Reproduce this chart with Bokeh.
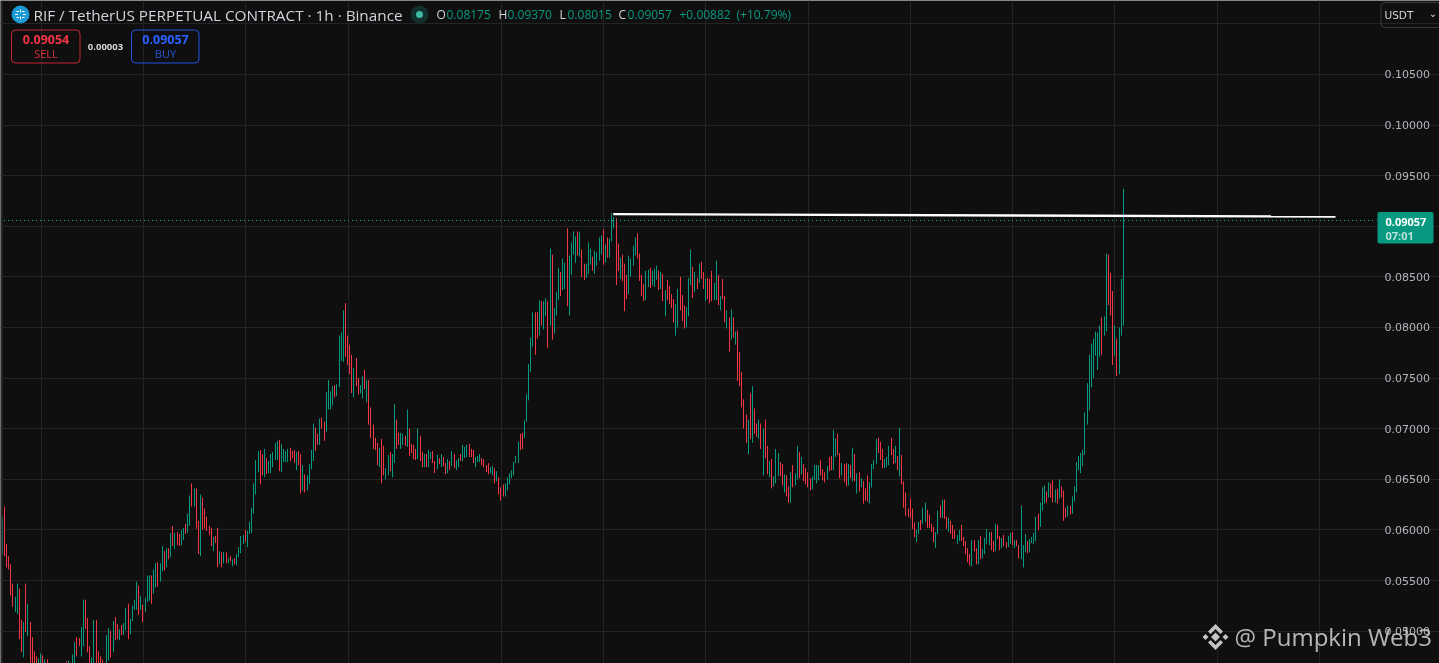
import numpy as np
from bokeh.plotting import figure
from bokeh.models import Range1d, FixedTicker, NumeralTickFormatter, Label, BoxAnnotation, PolyAnnotation
from bokeh.embed import file_html
from bokeh.resources import INLINE

# Bars in time order. Prices in units of 0.0001 USDT; g = up bar, r = down bar.
high_a = [613,623,586,574,566,547,534,547,542,511, 509,547,527,509,494,480,475,473,478,476,
          472,472,467,467,468,466,467,466,467,468, 470,471,468,477,489,494,493,504,531,531,
          513,485,474,511,511,480,475,472,467,496, 503,500,510,514,507,502,506,508,523,527,
          512,525,531,549,545,535,526,533,555,555, 555,561,567,568,567,584,579,582,582,597,
          604,597,598,596,600,602,606,616,634,646, 641,641,609,635,632,621,613,604,602,593,
          594,602,579,578,578,578,572,574,571,572, 576,583,594,595,600,599,608,622,646,669,
          678,679,675,680,671,668,675,677,686,688, 689,685,680,678,680,681,678,679,677,678]
low_a  = [576,574,563,561,535,524,519,517,492,479, 474,499,495,466,464,463,461,456,461,463,
          463,463,459,458,460,458,458,459,460,460, 462,462,460,463,466,475,485,475,485,502,
          479,466,463,463,463,463,462,462,459,462, 471,474,479,491,492,491,496,496,501,492,
          497,510,521,521,516,521,509,519,529,530, 527,537,543,544,549,559,560,563,571,573,
          584,581,585,584,585,590,596,597,604,623, 623,601,576,574,600,601,599,595,584,579,
          587,563,566,563,567,567,567,569,564,566, 565,573,577,586,588,583,596,597,616,635,
          657,645,654,652,655,656,656,662,669,669, 658,657,667,667,667,668,671,666,659,664]
dir_a = ("grrrrrggrr" "grgrrrrggr" "grgrgrrggr" "rgrggrrggr" "rrggrrrrgg" "grgrrgrggr" "ggggrgrggg"
         "rggrggrgrg" "rgrrggrggr" "grrgrrrrrg" "rrgrgrgrgr" "ggggrggggg" "grrgrggggg" "rggggrrrgr")

high_b = [675,664,655,654,665,679,705,701,695,710, 711,707,736,748,737,742,743,744,792,795,
          817,824,792,783,773,760,770,750,743,752, 758,748,748,721,704,691,686,681,690,683,
          661,674,677,675,724,709,696,696,695,693, 719,700,685,684,680,700,693,677,675,675,
          679,677,678,668,674,671,675,672,666,670, 668,678,675,669,671,675,684,682,684,685,
          680,679,672,673,675,671,670,664,666,662, 663,661,658,652,642,645,646,652,656,659,
          667,673,687,695,696,708,734,764,790,815, 815,815,827]
low_b  = [636,639,637,639,645,660,668,678,684,684, 700,688,697,719,719,723,731,732,741,767,
          766,771,763,754,735,731,742,734,735,730, 739,726,704,691,680,679,664,662,646,654,
          650,654,658,652,666,680,684,680,684,683, 682,673,676,670,669,670,668,662,662,662,
          662,670,666,656,660,665,662,663,655,656, 659,663,661,659,662,668,668,671,672,672,
          672,666,662,667,667,664,662,657,655,656, 654,646,648,635,629,633,633,639,645,651,
          654,666,666,679,680,691,707,728,756,781, 773,789,792]
dir_b = ("rgrggggrrg" "rrggggrggg" "grrrrgrrgg" "rgrrrrrgrr" "ggrggrrggr" "grrrrgrrgr" "ggrrgrgrrg"
         "rgrggrgggr" "rrgggrrrrg" "grgrrrgggg" "gggrrggggg" "rrg")

high_c = [826,826,829,826,878,872,819,835,859,855, 868,864,898,871,884,895,890,895,894,877,
          863,863,884,878,870,876,874,889,891,897, 882,889,888,913,909,908,883,869,872,863,
          852,871,868,881,889,893,873,852,843,856, 857,859,856,858,861,856,855,853,837,847,
          841,833,828,823,838,850,832,822,820,849, 877,860,855,849,863,865,855,848,849,848,
          856,844,866,852,831,848,831,817,810,818, 810,796]
low_c  = [802,798,811,780,802,788,794,812,827,831, 837,838,821,812,852,872,864,871,870,850,
          847,849,853,862,856,853,861,866,872,862, 864,869,869,885,898,842,856,848,846,816,
          828,833,850,861,871,868,846,831,826,827, 840,839,842,840,847,837,838,826,811,827,
          823,819,805,792,800,817,806,799,800,811, 842,829,835,838,844,848,838,826,828,824,
          826,827,827,822,817,828,805,799,776,788, 790,783]
dir_c = ("rggrgrgggr" "ggrggggrgr" "rgggrggggr" "grgggrrgrr" "rggggrrrrg" "grgggrgrgr" "rrrggrrrgg"
         "grgrgrrgrr" "rggrgrrgrg" "rg")

high_d = [797,776,756,729,714,709,735,742,720,705, 709,705,700,709,683,668,670,653,680,676,
          667,665,655,654,643,657,664,656,683,677, 672,665,661,657,651,653,664,664,664,669,
          660,657,663,672,673,699,690,695,676,666, 665,666,665,664,681,675,656,657,651,648,
          641,654,647,665,669,690,691,687,680,670, 672,683,691,680,683,673,701,674,648,637,
          621,631,621,607,600,608,610,622,627,620, 615,606,603,598,619,624,630,630,613,612,
          609,605,600,595,600,605,593,589,582]
low_d  = [747,742,721,700,686,675,690,686,695,692, 690,680,654,671,655,652,641,643,646,653,
          653,644,637,633,627,627,642,644,650,651, 655,648,645,642,639,640,649,646,649,654,
          649,647,650,658,659,659,672,674,651,654, 647,643,644,651,648,648,636,638,642,626,
          629,628,626,642,660,665,676,669,661,661, 662,664,674,665,666,659,653,645,622,614,
          613,612,601,593,588,596,600,606,608,602, 602,598,588,582,596,612,612,611,601,598,
          596,591,591,586,589,589,584,576,568]
dir_d = ("rrrrrgrgrr" "grgrrgrggg" "rrgrrgrggr" "grrrrggggr" "rrgrrggrrg" "rrgrgrgrgr" "rrggggrrrg"
         "ggrrgrgrrr" "rrrrggrggr" "rrrggrgrrg" "rrrggrrrr")

high_e = [576,590,590,582,590,594,581,592,601,598, 598,589,606,605,594,592,595,588,594,597,
          598,590,590,585,624,585,596,589,591,593, 597,613,616,627,642,644,638,647,646,649,
          640,641,650,643,639,622,624,624,633,643, 667,673,676,679,716,745,773,784,789,796,
          795,802,810,811,873,872,854,836,802,789, 800,848,937]
low_e  = [565,564,579,566,566,571,572,576,586,585, 580,578,579,591,580,582,584,582,583,586,
          585,582,584,572,571,563,578,577,578,587, 586,589,600,603,619,626,627,632,632,627,
          627,626,631,632,609,612,613,615,616,628, 637,659,656,663,674,704,718,741,750,772,
          758,771,773,792,796,822,812,763,772,752, 754,792,802]
dir_e = ("rgrrgrgggg" "rrgrrgrrgg" "rgrrgggrgg" "ggrgggrgrr" "grgrrrgrgg" "gggggggggg" "ggrggrrrgr" "ggg")

y_ticks = [0.105, 0.100, 0.095, 0.090, 0.085, 0.080, 0.075, 0.070, 0.065, 0.060, 0.055, 0.050]
grid_extra = [0.110]
title_text = "RIF / TetherUS PERPETUAL CONTRACT · 1h · Binance"
last_price = 0.09057
line_start_price, line_end_price = 0.0912, 0.09096

GREEN, RED, BG, GRID, AXIS = "#089981", "#f23645", "#0f0f0f", "#242424", "#b2b5be"
W, H, PLOT_W = 1439, 663, 1376

high = np.array(high_a + high_b + high_c + high_d + high_e) / 1e4
low = np.array(low_a + low_b + low_c + low_d + low_e) / 1e4
dirs = dir_a + dir_b + dir_c + dir_d + dir_e
n = min(len(high), len(low), len(dirs))
high, low, dirs = high[:n], low[:n], dirs[:n]
colors = [GREEN if d == "g" else RED for d in dirs]

# Bars sit on whole pixels of the 2.131px slot, as the trading chart does it
step = (1123.3 - 2.3) / (n - 1)
xs = np.floor(2.3 + step * np.arange(n))

p = figure(width=W, height=H, output_backend="svg", toolbar_location=None,
           x_range=Range1d(0, W), y_range=Range1d(0.04680, 0.11231),
           x_axis_location=None, y_axis_location="right",
           min_border_left=0, min_border_top=0, min_border_bottom=0, min_border_right=0,
           background_fill_color=BG, border_fill_color=BG, outline_line_color=None)
p.styles = {"position": "fixed", "left": "0", "top": "0"}

p.xgrid.ticker = FixedTicker(ticks=[41, 143, 245, 348, 501, 603, 705, 808, 910, 1012, 1114, 1217, 1319])
p.ygrid.ticker = FixedTicker(ticks=y_ticks + grid_extra)
p.ygrid.bounds = (0, PLOT_W)
p.xgrid.grid_line_color = GRID
p.ygrid.grid_line_color = GRID

ax = p.yaxis[0]
ax.fixed_location = PLOT_W
ax.ticker = FixedTicker(ticks=y_ticks)
ax.formatter = NumeralTickFormatter(format="0.00000")
ax.major_tick_line_color = None
ax.minor_tick_line_color = None
ax.major_tick_out = 0
ax.major_tick_in = 0
ax.axis_line_color = None
ax.major_label_text_color = AXIS
ax.major_label_text_font = "DejaVu Sans"
ax.major_label_text_font_size = "11px"
ax.major_label_standoff = 8

p.segment(xs, low, xs, high, color=colors, line_width=1)
p.line([612.7, 1335], [line_start_price, line_end_price], color="#ffffff", line_width=2.4)
p.line([-0.5, PLOT_W], [last_price, last_price], color="#0bb596", line_width=1, line_dash="1 3")


def label(text, x, y, color, size, font="Open Sans", bold=False, align="left", alpha=1.0):
    p.add_layout(Label(x=x, y=H - y, x_units="screen", y_units="screen", text=text, text_color=color,
                       text_font=font, text_font_size=f"{size}px", text_align=align, text_baseline="middle",
                       text_font_style="bold" if bold else "normal", text_alpha=alpha))


def box(l, r, t, b, fill=None, line=None, radius=0, lw=1):
    p.add_layout(BoxAnnotation(left=l, right=r, top=H - t, bottom=H - b,
                               left_units="screen", right_units="screen", top_units="screen", bottom_units="screen",
                               fill_color=fill, fill_alpha=1 if fill else 0,
                               line_color=line, line_alpha=1 if line else 0, line_width=lw, border_radius=radius))


def poly(pts, color="#c4c4c4"):
    p.add_layout(PolyAnnotation(xs=[a for a, _ in pts], ys=[H - b for _, b in pts], xs_units="screen", ys_units="screen",
                                fill_color=color, fill_alpha=1, line_color=None))


box(0, 2, 0, H, fill="#2a2a2a")

# header
box(11, 29, 5, 23, fill="#1b9ad6", radius=9)
for l, r, t, b in [(19.5, 20.5, 9, 12), (19.5, 20.5, 16, 19), (14.5, 17.5, 13.5, 14.5), (22.5, 25.5, 13.5, 14.5),
                   (16, 18.5, 10.5, 11.5), (21.5, 24, 10.5, 11.5), (16, 18.5, 16.5, 17.5), (21.5, 24, 16.5, 17.5)]:
    box(l, r, t, b, fill="#ffffff")
label(title_text, 33, 14, "#d1d4dc", 15.3)
box(410, 428, 5, 23, fill="#12312d", radius=9)
box(415.5, 422.5, 10.5, 17.5, fill="#3cb89e", radius=4)

for letter, lx, val, vx in [("O", 436, "0.08175", 446), ("H", 498, "0.09370", 507), ("L", 559, "0.08015", 567), ("C", 618, "0.09057", 627)]:
    label(letter, lx, 14, "#d1d4dc", 12)
    label(val, vx, 14, GREEN, 12)
label("+0.00882", 679, 14, GREEN, 12)
label("(+10.79%)", 736, 14, GREEN, 12)

# sell / buy
box(11, 79.5, 29.5, 62.5, line="#c22632", radius=4)
label("0.09054", 45.5, 39, "#f23645", 12.5, bold=True, align="center")
label("SELL", 45.5, 52.5, "#e0303e", 11, align="center")
label("0.00003", 105, 46, "#d8d8d8", 9.5, bold=True, align="center")
box(131, 198.5, 29.5, 62.5, line="#2353e0", radius=4)
label("0.09057", 165, 39, "#2962ff", 12.5, bold=True, align="center")
label("BUY", 165, 52.5, "#2b55d0", 11, align="center")

# right side widgets
box(1380.5, 1441, 2, 27, line="#3a3a3a", radius=4)
label("USDT", 1384, 14.5, "#d1d4dc", 10.5, font="DejaVu Sans")
label("⌄", 1432.5, 13, "#d1d4dc", 10, font="DejaVu Sans", align="center")
box(1377, 1433, 211.5, 243, fill=GREEN, radius=2)
label("0.09057", 1385, 221, "#ffffff", 11, bold=True)
label("07:01", 1385, 235, "#b4e3d9", 11, bold=True)

# watermark
cx, cy = 1215, 636.5
poly([(cx, cy - 4.5), (cx + 4.5, cy), (cx, cy + 4.5), (cx - 4.5, cy)])
poly([(cx - 13, cy), (cx - 10, cy - 3), (cx - 7, cy), (cx - 10, cy + 3)])
poly([(cx + 13, cy), (cx + 10, cy - 3), (cx + 7, cy), (cx + 10, cy + 3)])
poly([(cx, cy - 13), (cx + 7.5, cy - 5.5), (cx + 5, cy - 3), (cx, cy - 8), (cx - 5, cy - 3), (cx - 7.5, cy - 5.5)])
poly([(cx, cy + 13), (cx + 7.5, cy + 5.5), (cx + 5, cy + 3), (cx, cy + 8), (cx - 5, cy + 3), (cx - 7.5, cy + 5.5)])
label("@ Pumpkin Web3", 1234, 636, "#c4c4c4", 24, font="Open Sans", alpha=0.92)

open("out.html", "w").write(file_html(p, INLINE))
